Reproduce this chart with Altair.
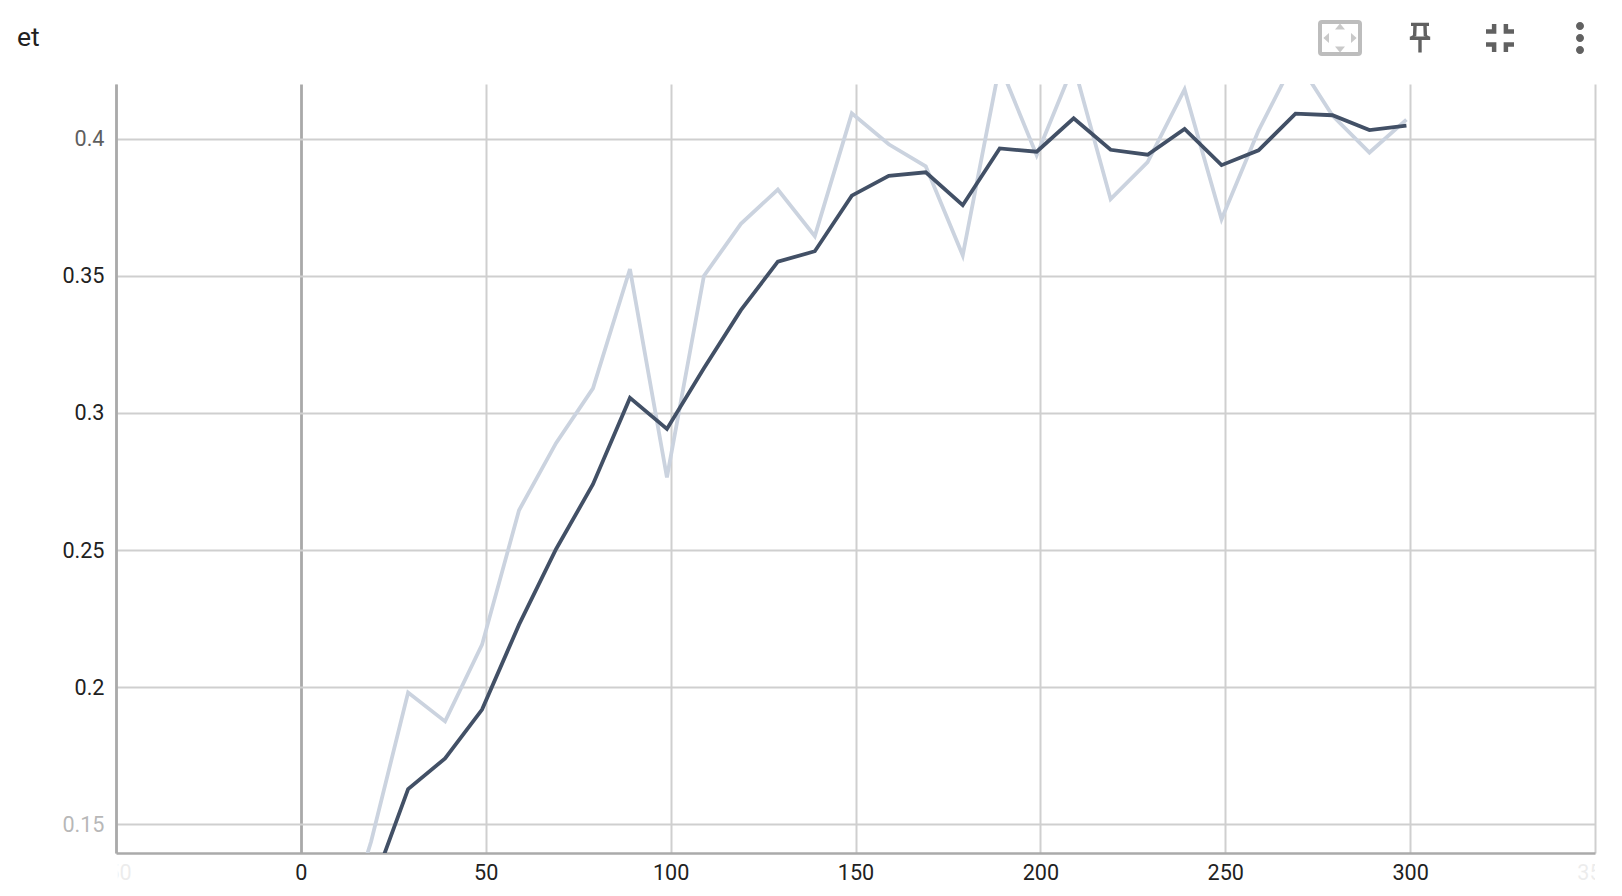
import altair as alt
import pandas as pd

steps = [9, 19, 29, 39, 49, 59, 69, 79, 89, 99, 109, 119, 129, 139, 149, 159, 169, 179, 189, 199,
         209, 219, 229, 239, 249, 259, 269, 279, 289, 299]
raw = [0.10, 0.1437, 0.1980, 0.1875, 0.2155, 0.2645, 0.289, 0.309, 0.3525, 0.2765, 0.350, 0.369, 0.3815,
       0.3645, 0.4093, 0.3980, 0.390, 0.3575, 0.427, 0.394, 0.427, 0.378, 0.3915, 0.418, 0.3707, 0.403,
       0.4295, 0.4085, 0.395, 0.407]
smoothed = [0.09, 0.126, 0.1628, 0.174, 0.1918, 0.2228, 0.2503, 0.274, 0.3055, 0.2942, 0.3163, 0.3375,
            0.3552, 0.359, 0.3793, 0.3865, 0.3878, 0.3758, 0.3965, 0.3953, 0.4075, 0.3960, 0.3942, 0.4036,
            0.3904, 0.3958, 0.4092, 0.4086, 0.4032, 0.4048]
x_ticks = [-50, 0, 50, 100, 150, 200, 250, 300, 350]
y_ticks = [0.15, 0.2, 0.25, 0.3, 0.35, 0.4]

LEFT, TOP = 116, 84
LINE = "#425066"
FONT = "Roboto"

df = pd.DataFrame({"step": steps, "raw": raw, "smoothed": smoothed})
one = pd.DataFrame({"k": [0]})

x_enc = alt.X("step:Q", scale=alt.Scale(domain=[-50, 350], nice=False, zero=False), axis=alt.Axis(
    values=x_ticks, title=None, labelExpr="'' + datum.value", ticks=False, domain=True,
    domainColor="#aaaaaa", domainWidth=2.4,
    grid=True,
    gridWidth={"condition": {"test": "datum.value === 0", "value": 2.8}, "value": 2},
    gridColor={"condition": {"test": "datum.value === 0", "value": "#a9a9a9"}, "value": "#cfcfcf"},
    labelFont=FONT, labelFontSize=21.6, labelColor="#212121", labelPadding=9, labelFlush=False,
    labelOverlap=False, labelBound=False,
    labelOpacity={"condition": {"test": "datum.value === -50 || datum.value === 350", "value": 0.08}, "value": 1},
))
y_enc = alt.Y("raw:Q", scale=alt.Scale(domain=[0.1395, 0.42], nice=False, zero=False), axis=alt.Axis(
    values=y_ticks, title=None, format=".2~f", ticks=False, domain=True, domainColor="#aaaaaa", domainWidth=2.8,
    grid=True, gridWidth=2, gridColor="#cfcfcf",
    labelFont=FONT, labelFontSize=21.6, labelColor="#212121", labelPadding=12, labelOffset=1,
    labelOverlap=False, labelBound=False,
    labelOpacity={"condition": [
        {"test": "datum.value === 0.15", "value": 0.32},
        {"test": "datum.value === 0.4", "value": 0.72}], "value": 1},
))

raw_line = alt.Chart(df).mark_line(color="#cbd3df", strokeWidth=3.8, clip=True).encode(x=x_enc, y=y_enc)
smooth_line = alt.Chart(df).mark_line(color=LINE, strokeWidth=3.8, clip=True).encode(
    x="step:Q", y=alt.Y("smoothed:Q"))


def icon(shape, cx, cy, half, **mark):
    return alt.Chart(one).mark_point(shape=shape, size=(2 * half) ** 2, **mark).encode(
        x=alt.value(cx - LEFT), y=alt.value(cy - TOP))


def mask(x0, x1):
    return alt.Chart(one).mark_rect(color="white").encode(
        x=alt.value(x0), x2=alt.value(x1), y=alt.value(773), y2=alt.value(802))


title = alt.Chart(one).mark_text(text="et", font=FONT, fontSize=26.5, color="#212121", align="left",
                                 baseline="alphabetic").encode(x=alt.value(17 - LEFT), y=alt.value(45.5 - TOP))

fit_box = "M -0.9 -0.8 L 0.9 -0.8 Q 1 -0.8 1 -0.7 L 1 0.7 Q 1 0.8 0.9 0.8 L -0.9 0.8 Q -1 0.8 -1 0.7 L -1 -0.7 Q -1 -0.8 -0.9 -0.8 Z"
fit_arrows = ("M 0 -0.72 L 0.25 -0.42 L -0.25 -0.42 Z M 0 0.72 L 0.25 0.42 L -0.25 0.42 Z "
              "M -0.83 0 L -0.55 -0.25 L -0.55 0.25 Z M 0.83 0 L 0.55 -0.25 L 0.55 0.25 Z")
pin = ("M -0.6 -0.89 L 0.6 -0.89 M -0.33 -0.89 L -0.36 -0.1 M 0.33 -0.89 L 0.36 -0.1 "
       "M -0.68 0.04 L 0.68 0.04 M -0.36 -0.1 L -0.6 0.04 M 0.36 -0.1 L 0.6 0.04 M 0 0.04 L 0 0.98")
shrink = ("M -0.58 -1 L -0.26 -1 L -0.26 -0.3 L -1 -0.3 L -1 -0.62 L -0.58 -0.62 Z "
          "M 0.58 -1 L 0.26 -1 L 0.26 -0.3 L 1 -0.3 L 1 -0.62 L 0.58 -0.62 Z "
          "M -0.58 1 L -0.26 1 L -0.26 0.3 L -1 0.3 L -1 0.62 L -0.58 0.62 Z "
          "M 0.58 1 L 0.26 1 L 0.26 0.3 L 1 0.3 L 1 0.62 L 0.58 0.62 Z")
dots = ("M -0.25 -0.75 A 0.25 0.25 0 1 0 0.25 -0.75 A 0.25 0.25 0 1 0 -0.25 -0.75 Z "
        "M -0.25 0 A 0.25 0.25 0 1 0 0.25 0 A 0.25 0.25 0 1 0 -0.25 0 Z "
        "M -0.25 0.75 A 0.25 0.25 0 1 0 0.25 0.75 A 0.25 0.25 0 1 0 -0.25 0.75 Z")

chart = alt.layer(
    raw_line,
    smooth_line,
    mask(-45, 1.8),
    mask(1479, 1505),
    title,
    icon(fit_box, 1340, 38, 20, filled=False, stroke="#bdbdbd", strokeWidth=4, opacity=1),
    icon(fit_arrows, 1340, 38, 20, filled=True, fill="#c9c9c9", strokeWidth=0, opacity=1),
    icon(pin, 1420, 37.7, 15, filled=False, stroke="#616161", strokeWidth=3.4, opacity=1),
    icon(shrink, 1500, 38, 14, filled=True, fill="#616161", strokeWidth=0, opacity=1),
    icon(dots, 1580, 38, 16, filled=True, fill="#616161", strokeWidth=0, opacity=1),
).properties(
    width=1479, height=769, autosize="none", background="white",
    padding={"left": LEFT - 8, "top": TOP - 8, "right": 16, "bottom": 35},
).configure_view(stroke=None)

chart.save("out.html", embed_options={"renderer": "svg", "actions": False})
